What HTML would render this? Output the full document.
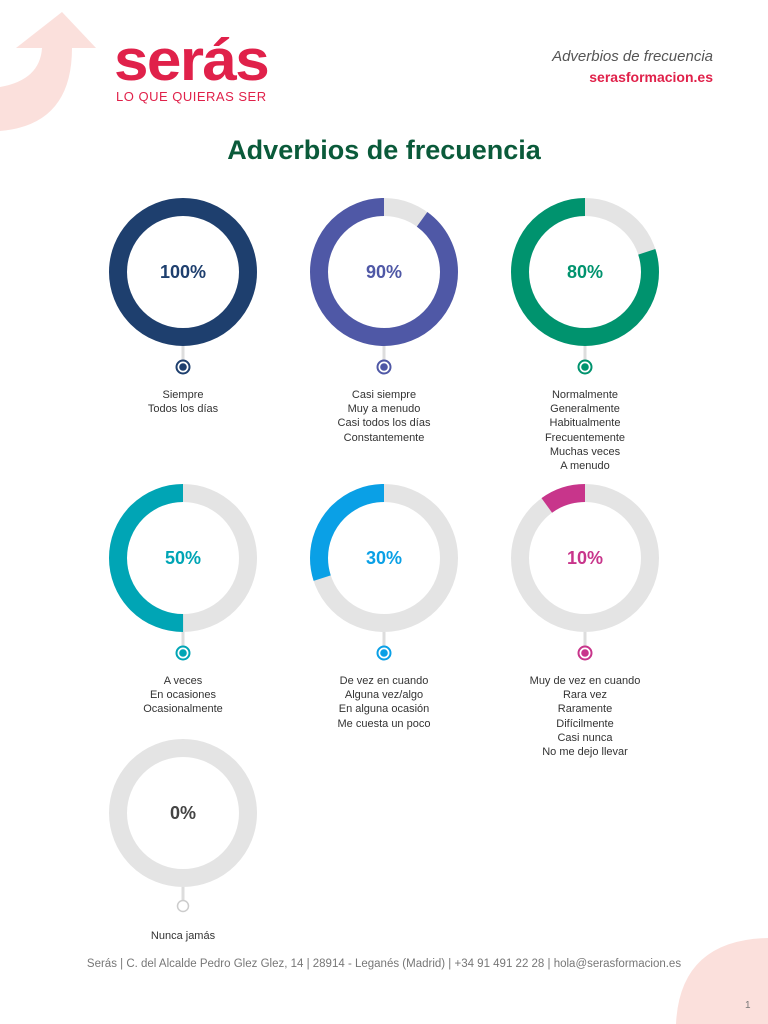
<!DOCTYPE html>
<html><head><meta charset="utf-8"><style>
body{margin:0;width:768px;height:1024px;background:#fff;overflow:hidden;font-family:"Liberation Sans",sans-serif;position:relative}
.abs{position:absolute}
</style></head><body>
<svg class="abs" style="left:0;top:0" width="768" height="1024">
 <path d="M0,87 Q40,80 42,48 L16,48 L62,12 L96,48 L72,48 Q72,125 0,131 Z" fill="#fbe0dc"/>
 <path d="M676,1024 Q680,940 768,938 L768,1024 Z" fill="#fbe0dc"/>
 <g id="charts"></g>
</svg>
<div class="abs" style="left:114px;top:32px;color:#e0214a;font-weight:bold;font-size:58px;letter-spacing:-1.5px;line-height:58px;transform:scaleX(1.07);transform-origin:left">serás</div>
<div class="abs" style="left:116px;top:89px;color:#e0214a;font-size:13px;letter-spacing:0.5px">LO QUE QUIERAS SER</div>
<div class="abs" style="right:55px;top:48px;color:#555;font-style:italic;font-size:15px">Adverbios de frecuencia</div>
<div class="abs" style="right:55px;top:69px;color:#e0214a;font-weight:bold;font-size:14px">serasformacion.es</div>
<div class="abs" style="left:0;width:768px;text-align:center;top:135px;color:#0a5a3a;font-weight:bold;font-size:27px">Adverbios de frecuencia</div>
<div class="abs" style="left:0;width:768px;text-align:center;top:958px;color:#777;font-size:11.5px">Serás | C. del Alcalde Pedro Glez Glez, 14 | 28914 - Leganés (Madrid) | +34 91 491 22 28 | hola@serasformacion.es</div>
<div class="abs" style="left:745px;top:1000px;color:#777;font-size:10px">1</div>
<div id="labels"></div>
<script>
const labels=["100%","90%","80%","50%","30%","10%","0%"];
const values=[100,90,80,50,30,10,0];
const colors=["#1e3f6e","#4f58a6","#00936e","#00a5b5","#0aa0e6","#c8358b","#444"];
const texts=[["Siempre","Todos los días"],["Casi siempre","Muy a menudo","Casi todos los días","Constantemente"],["Normalmente","Generalmente","Habitualmente","Frecuentemente","Muchas veces","A menudo"],["A veces","En ocasiones","Ocasionalmente"],["De vez en cuando","Alguna vez/algo","En alguna ocasión","Me cuesta un poco"],["Muy de vez en cuando","Rara vez","Raramente","Difícilmente","Casi nunca","No me dejo llevar"],["Nunca jamás"]];
const cx=[183,384,585],cy=[272,558,813];
const g=document.getElementById('charts'),L=document.getElementById('labels'),ns='http://www.w3.org/2000/svg';
const R=65,SW=18;
function mk(t,a){const e=document.createElementNS(ns,t);for(const k in a)e.setAttribute(k,a[k]);g.appendChild(e);return e;}
values.forEach((v,i)=>{
 const x=cx[i%3],y=cy[Math.floor(i/3)];
 const st=mk('line',{x1:x,y1:y+R+SW/2,x2:x,y2:y+88,stroke:'#ddd','stroke-width':3});
 
 
 const bg=mk('circle',{cx:x,cy:y,r:R,fill:'none',stroke:'#e4e4e4','stroke-width':SW});
 
 
 if(v>0){
  const c=2*Math.PI*R;
  const arc=mk('circle',{cx:x,cy:y,r:R,fill:'none',stroke:colors[i],'stroke-width':SW,'stroke-dasharray':(c*v/100)+' '+c,transform:`rotate(-90 ${x} ${y}) scale(1,-1) translate(0,${-2*y})`});
  
  
 }
 const my=y+95;
 if(v>0){
  const o=mk('circle',{cx:x,cy:my,r:6.5,fill:'#fff',stroke:colors[i],'stroke-width':2});
  
  
  const d=mk('circle',{cx:x,cy:my,r:3.8,fill:colors[i]});
  
  
 } else {
  const o=mk('circle',{cx:x,cy:my-2,r:5.5,fill:'#fff',stroke:'#ccc','stroke-width':1.5});
  
  
 }
 const t=mk('text',{x:x,y:y+6,'text-anchor':'middle','font-size':18,'font-weight':'bold',fill:colors[i],'font-family':'Liberation Sans, sans-serif'});
 t.textContent=labels[i];
 
 
 const div=document.createElement('div');
 
 
 div.style.cssText=`position:absolute;left:${x-90}px;width:180px;text-align:center;top:${my+21}px;font-size:11px;line-height:14.2px;color:#333`;
 div.innerHTML=texts[i].join('<br>');
 L.appendChild(div);
});
</script>
</body></html>
